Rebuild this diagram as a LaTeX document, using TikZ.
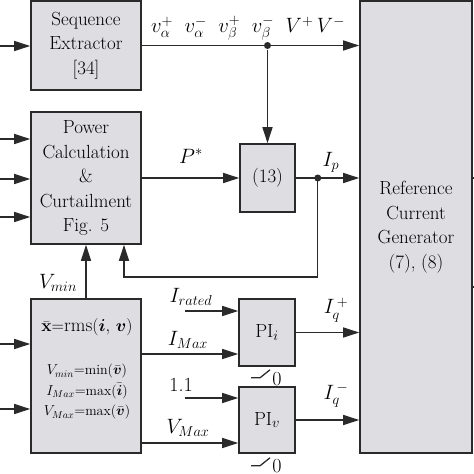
\documentclass[tikz,border=0pt]{standalone}
\usepackage{bm}
\usetikzlibrary{arrows.meta, positioning, calc}
\definecolor{cfill}{HTML}{DDDDE2}
\definecolor{cline}{HTML}{2A2A2A}
\tikzset{
  every picture/.style={line width=1.3pt},
  blk/.style={draw=cline, fill=cfill, line width=1.6pt, align=center, inner sep=0pt, font=\fontsize{19}{24.5}\selectfont},
  arrow/.style={-{Triangle[length=16pt, width=10pt]}, draw=cline},
  wire/.style={draw=cline},
  lbl/.style={font=\fontsize{20}{24}\selectfont, inner sep=0pt},
  dot/.style={circle, fill=cline, inner sep=0pt, minimum size=7pt},
}

\begin{document}
\begin{tikzpicture}[x=1pt, y=-1pt]
  \useasboundingbox (0,0) rectangle (474,474);
  % blocks
  \node[blk, minimum width=110pt, minimum height=89pt] (seq) at (86,45.5) {Sequence\\Extractor\\{[34]}};
  \node[blk, minimum width=110pt, minimum height=132pt] (pwr) at (86,178) {Power\\Calculation\\\&\\Curtailment\\Fig. 5};
  \node[blk, minimum width=110pt, minimum height=154pt] (rms) at (86,376) {};
  \node[lbl, font=\fontsize{19}{24}\selectfont] (rmsdef) at (87,327) {$\bar{\mathbf{x}}{=}$rms$(\bm{i},\,\bm{v})$};
  \node[lbl, font=\fontsize{14}{20.5}\selectfont, align=center] (rmseq) at (87,392) {$V_{min}{=}$min($\bar{\bm v}$)\\$I_{Max}{=}$max($\bar{\bm i}$)\\$V_{Max}{=}$max($\bar{\bm v}$)};
  \node[blk, minimum width=55pt, minimum height=68pt] (eq13) at (267.5,178) {(13)};
  \node[blk, minimum width=56pt, minimum height=67pt] (pii) at (267,332.5) {PI$_{i}$};
  \node[blk, minimum width=56pt, minimum height=66pt] (piv) at (267,420) {PI$_{v}$};
  \node[blk, minimum width=112pt, minimum height=452pt] (rcg) at (416,227) {Reference\\Current\\Generator\\(7), (8)};

  % inputs from the left
  \coordinate (sin) at (0,46);
  \draw[arrow] (sin) -- (sin -| seq.west);
  \foreach \y in {139,179,217} {\coordinate (pin) at (0,\y); \draw[arrow] (pin) -- (pin -| pwr.west);}
  \foreach \y in {344,409} {\coordinate (rin) at (0,\y); \draw[arrow] (rin) -- (rin -| rms.west);}

  % sequence components
  \node[dot] (j1) at (eq13.north |- seq.east) {};
  \draw[arrow] (seq.east) -- (seq.east -| rcg.west);
  \draw[arrow] (j1) -- (eq13.north);
  \node[lbl] (vlab) at (248,28) {$v_\alpha^+\;\; v_\alpha^-\;\; v_\beta^+\;\; v_\beta^-\;\; V^+\, V^-$};

  % power path
  \draw[arrow] (pwr.east) -- (pwr.east -| eq13.west);
  \node[lbl] (pstar) at (191,156) {$P^*$};
  \node[dot] (j2) at ([xshift=22pt]eq13.east) {};
  \draw[arrow] (eq13.east) -- (eq13.east -| rcg.west);
  \node[lbl] (iplab) at (331,162) {$I_p$};
  \coordinate (fb) at (124,277);
  \draw[arrow] (j2.center) |- (fb) -- (fb |- pwr.south);
  \draw[arrow] (rms.north) -- (pwr.south);
  \node[lbl] (vmin) at (58,283) {$V_{min}$};

  % PI controllers
  \coordinate (irt) at (185,311);
  \draw[arrow] (irt) -- (irt -| pii.west);
  \coordinate (imx) at (rms.east |- 0,354);
  \draw[arrow] (imx) -- (imx -| pii.west);
  \coordinate (one) at (185,398);
  \draw[arrow] (one) -- (one -| piv.west);
  \coordinate (vmx) at (rms.east |- 0,443);
  \draw[arrow] (vmx) -- (vmx -| piv.west);
  \node[lbl] (irl) at (191,297) {$I_{rated}$};
  \node[lbl] (iml) at (188,340) {$I_{Max}$};
  \node[lbl] (onel) at (181,385) {1.1};
  \node[lbl] (vml) at (188,428) {$V_{Max}$};
  \draw[arrow] (pii.east) -- (pii.east -| rcg.west);
  \draw[arrow] (piv.east) -- (piv.east -| rcg.west);
  \node[lbl] (iqp) at (336,310) {$I_q^{\,+}$};
  \node[lbl] (iqm) at (336,395) {$I_q^{\,-}$};

  % limiters
  \draw[wire] ([shift={(-16,11)}]pii.south) -- ++(9,0) -- ++(10,-8);
  \node[lbl] (z1) at ([shift={(10,12)}]pii.south) {0};
  \draw[wire] ([shift={(-16,12)}]piv.south) -- ++(9,0) -- ++(10,-8);
  \node[lbl] (z2) at ([shift={(10,12)}]piv.south) {0};

  % outputs
  \draw[wire] (rcg.east |- 0,178) -- ++(6,0);
  \draw[wire] (rcg.east |- 0,287) -- ++(6,0);
\end{tikzpicture}
\end{document}
